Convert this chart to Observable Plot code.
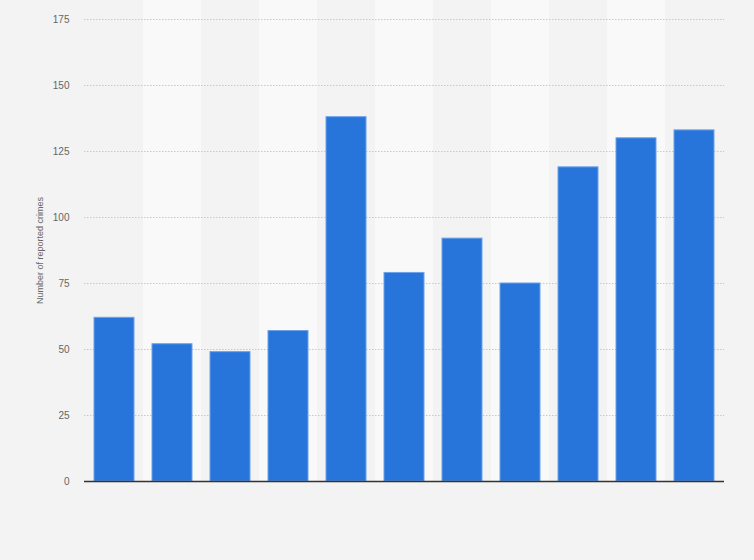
<!DOCTYPE html>
<html>
<head>
<meta charset="utf-8">
<script src="https://cdn.jsdelivr.net/npm/d3@7"></script>
<script src="https://cdn.jsdelivr.net/npm/@observablehq/plot@0.6"></script>
<style>
  html, body { margin: 0; padding: 0; background: #f3f3f3; }
  #chart svg { display: block; background: transparent; }
</style>
</head>
<body>
<div id="chart"></div>
<script>
const categories = ["2010","2011","2012","2013","2014","2015","2016","2017","2018","2019","2020"];
const values = [62, 52, 49, 57, 138, 79, 92, 75, 119, 130, 133];
const yTicks = [0, 25, 50, 75, 100, 125, 150, 175];
const yLabel = "Number of reported crimes";

const data = categories.map((c, i) => ({category: c, value: values[i], stripe: i % 2 === 1}));

const chart = Plot.plot({
  width: 754,
  height: 560,
  marginLeft: 84,
  marginRight: 30,
  marginTop: 19,
  marginBottom: 79,
  style: {fontFamily: "Liberation Sans, Arial, sans-serif", fontSize: "10px", color: "#666", background: "transparent"},
  x: {domain: categories, paddingInner: 0.31, paddingOuter: 0.155, axis: null},
  y: {domain: [0, 175], ticks: yTicks},
  marks: [
    Plot.barY(data.filter(d => d.stripe), {x: "category", y: () => 175, fill: "#f9f9f9", insetLeft: -9.05, insetRight: -9.05, insetTop: -19}),
    Plot.gridY(yTicks.filter(t => t > 0), {stroke: "#c8c8c8", strokeOpacity: 1, strokeDasharray: "1.5,1.5"}),
    Plot.axisY({
      ticks: yTicks,
      tickSize: 0,
      tickPadding: 15,
      fontSize: 10,
      fill: "#666",
      label: yLabel,
      labelAnchor: "center",
      labelArrow: "none",
      labelOffset: 48
    }),
    Plot.barY(data, {x: "category", y: "value", fill: "#2775db", stroke: "#6ea2ea", strokeWidth: 1}),
    Plot.ruleY([0], {stroke: "#333", strokeWidth: 1.5})
  ]
});
chart.querySelectorAll("[aria-label='y-axis label'] text").forEach(t => t.setAttribute("font-size", "9px"));
document.getElementById("chart").appendChild(chart);
</script>
</body>
</html>
